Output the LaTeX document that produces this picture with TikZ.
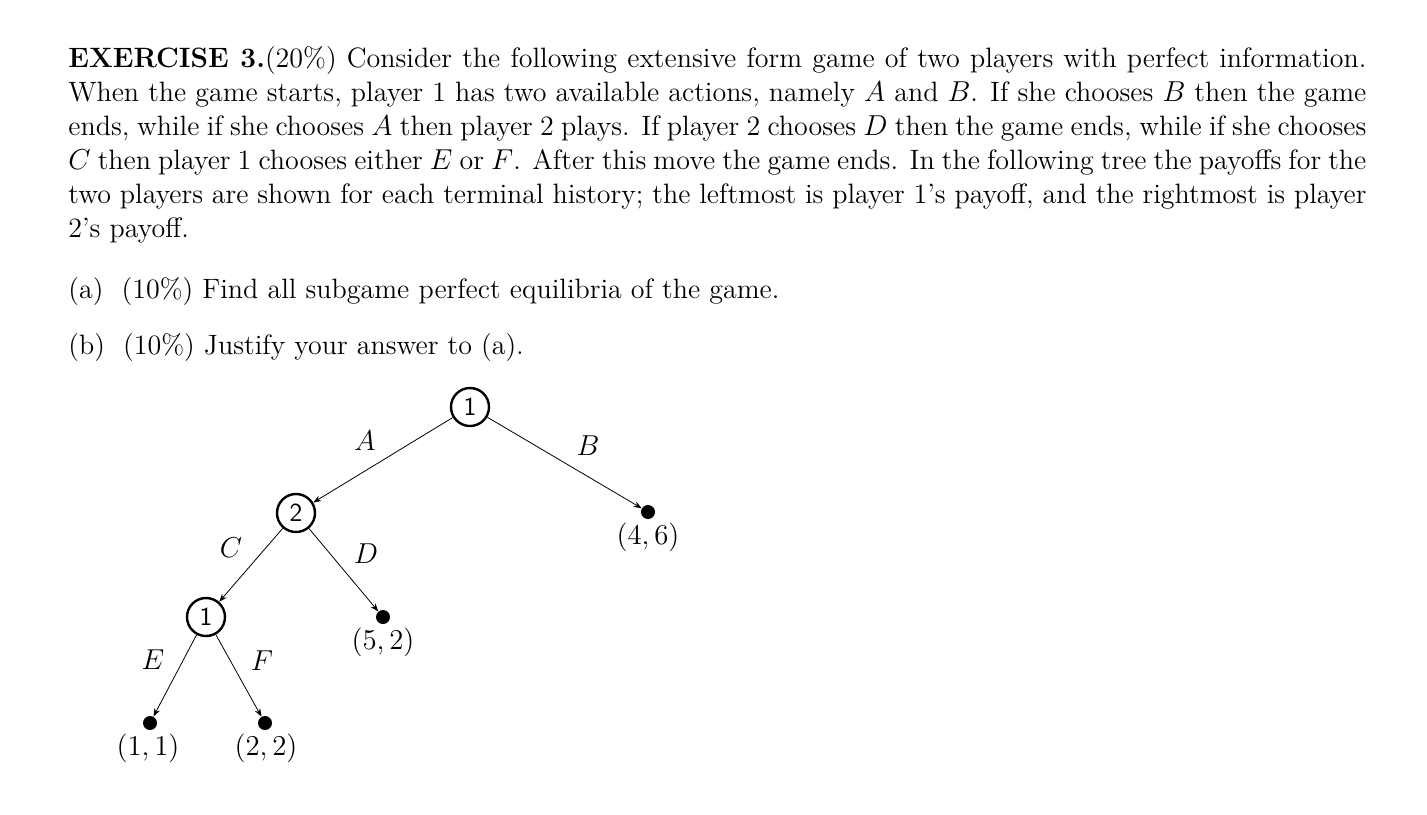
\documentclass[tikz,border=0pt]{standalone}
\usetikzlibrary{arrows.meta}
\begin{document}
\begin{tikzpicture}[x=0.5pt,y=-0.5pt,
  player/.style={circle,draw,line width=1.2pt,minimum size=19pt,inner sep=0pt,font=\sffamily\fontsize{13}{15}\selectfont},
  term/.style={circle,fill,minimum size=7pt,inner sep=0pt},
  lbl/.style={font=\fontsize{14}{17}\selectfont},
  edge/.style={-{Stealth[length=4pt,width=3pt]},line width=0.4pt}]
\useasboundingbox (0,0) rectangle (1427,814);
\node[anchor=north west,text width=649pt,align=justify,inner sep=0pt,font=\fontsize{14}{17}\selectfont] (para) at (68,46)
{\textbf{EXERCISE 3.}(20\%) Consider the following extensive form game of two players with perfect information.\linebreak
When the game starts, player 1 has two available actions, namely $A$ and $B$. If she chooses $B$ then the game\linebreak
ends, while if she chooses $A$ then player 2 plays. If player 2 chooses $D$ then the game ends, while if she chooses\linebreak
$C$ then player 1 chooses either $E$ or $F$. After this move the game ends. In the following tree the payoffs for the\linebreak
two players are shown for each terminal history; the leftmost is player 1's payoff, and the rightmost is player\linebreak
2's payoff.};
\node[lbl,anchor=base west,inner sep=0pt] (qa) at (68,298) {(a)\ \ (10\%) Find all subgame perfect equilibria of the game.};
\node[lbl,anchor=base west,inner sep=0pt] (qb) at (68,354) {(b)\ \ (10\%) Justify your answer to (a).};
\node[player] (n1) at (470,407) {1};
\node[player] (n2) at (296,513) {2};
\node[player] (n3) at (206,617) {1};
\node[term] (tB) at (648,512) {};
\node[term] (tD) at (383,617) {};
\node[term] (tE) at (150,723) {};
\node[term] (tF) at (265,723) {};
\draw[edge] (n1) -- (n2);
\draw[edge] (n1) -- (tB);
\draw[edge] (n2) -- (n3);
\draw[edge] (n2) -- (tD);
\draw[edge] (n3) -- (tE);
\draw[edge] (n3) -- (tF);
\node[lbl] (pB) at (648,537) {$(4,6)$};
\node[lbl] (pD) at (383,642) {$(5,2)$};
\node[lbl] (pE) at (148,748) {$(1,1)$};
\node[lbl] (pF) at (266,748) {$(2,2)$};
\node[lbl] (lA) at (365,441) {$A$};
\node[lbl] (lB) at (588,446) {$B$};
\node[lbl] (lC) at (231,548) {$C$};
\node[lbl] (lD) at (366,554) {$D$};
\node[lbl] (lE) at (153,660) {$E$};
\node[lbl] (lF) at (262,661) {$F$};
\end{tikzpicture}
\end{document}
